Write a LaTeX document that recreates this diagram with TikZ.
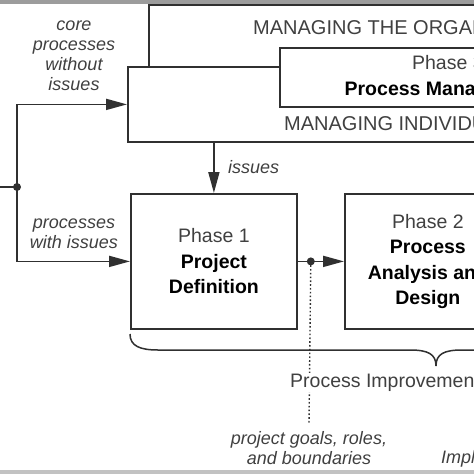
\documentclass[tikz,border=0pt]{standalone}
\usepackage{fontspec}
\setmainfont{Liberation Sans}
\usetikzlibrary{arrows.meta}
\newlength{\phasewidth}
\newlength{\phaseheight}
\setlength{\phasewidth}{166pt}
\setlength{\phaseheight}{135pt}
\definecolor{background}{RGB}{255, 255, 255}
\definecolor{mainline}{HTML}{303030}
\definecolor{mainfont}{HTML}{404040}
\definecolor{upperband}{HTML}{9C9C9C}
\definecolor{lowerband}{HTML}{C2C2C2}

\begin{document}
\begin{tikzpicture}[x=1pt,y=-1pt,
		box/.style={draw=mainline,line width=1.8pt,fill=background,inner sep=0pt,align=center,text=mainfont,font=\fontsize{19.5}{25.5}\selectfont},
		caps/.style={anchor=base west,inner sep=0pt,text=mainfont,font=\fontsize{20}{24}\selectfont},
		note/.style={inner sep=0pt,align=center,text=mainfont,font=\fontsize{18}{20}\selectfont\itshape},
		flow/.style={draw=mainline,line width=1.8pt},
		arrow/.style={flow,-{Triangle[length=21pt,width=11pt]}},
		goalline/.style={draw=mainline,line width=1.4pt,dash pattern=on 1.6pt off 2.2pt}]
				% Boundary box
				\useasboundingbox (0,0) rectangle (474,474);
				\clip (0,0) rectangle (474,474);
				\fill[background] (0,0) rectangle (474,474);
				\fill[upperband] (0,0) rectangle (474,3.5);
				\fill[lowerband] (0,470) rectangle (474,474);

				% Managing layers (upper part)
				\node[box,minimum width=400pt,minimum height=137pt,anchor=north west] (organisation) at (148,4) {};
				\node[box,minimum width=400pt,minimum height=75pt,anchor=north west] (individuals) at (127,66) {};
				\node[box,minimum width=330pt,minimum height=59pt,anchor=north west] (phasethree) at (279,47) {\hspace*{6pt}Phase 3\\\textbf{\color{black}Process Management}};
				\node[caps] (orgtext) at (253,34) {MANAGING THE ORGANIZATION};
				\node[caps] (indtext) at (284,130) {MANAGING INDIVIDUALS};

				% Phases (lower part)
				\node[box,minimum width=\phasewidth,minimum height=\phaseheight,anchor=north west] (phaseone) at (130,193) {Phase 1\\\textbf{\color{black}Project}\\\textbf{\color{black}Definition}};
				\node[box,minimum width=\phasewidth,minimum height=\phaseheight,anchor=north west] (phasetwo) at (344,193) {Phase 2\\\textbf{\color{black}Process}\\\textbf{\color{black}Analysis and}\\\textbf{\color{black}Design}};

				% Incoming processes
				\coordinate (entry) at (0,187);
				\coordinate (split) at (17,187);
				\draw[flow] (entry) -- (split);
				\draw[arrow] (split) |- (individuals.west);
				\draw[arrow] (split) |- (phaseone.west);
				\fill[mainline] (split) circle (4pt);
				\node[note] (corelabel) at (74,55.5) {core\\processes\\without\\issues};
				\node[note] (issuelabel) at (74,234) {processes\\with issues};

				% Issues down to phase 1
				\draw[arrow] (phaseone.north |- individuals.south) -- (phaseone.north);
				\node[note,anchor=base west] (issuestext) at (228,173) {issues};

				% Phase 1 to phase 2
				\coordinate (tap) at ([xshift=13pt]phaseone.east);
				\draw[arrow] (phaseone.east) -- (phasetwo.west);
				\fill[mainline] (tap) circle (4pt);

				% Brace and improvement label
				\draw[mainline,line width=1.5pt] (130,334) .. controls (130,346) and (140,350) .. (158,350) -- (410,350) .. controls (428,350) and (436,354) .. (436,366) .. controls (436,354) and (444,350) .. (462,350) -- (490,350);
				\node[note] (goals) at (309,448) {project goals, roles,\\and boundaries};
				\draw[goalline] (tap) -- ([yshift=7pt]goals.north);
				\node[caps,fill=background,inner sep=1pt,font=\fontsize{19.5}{24}\selectfont] (improvement) at (289,387) {Process Improvement};
				\node[note,anchor=base west] (implement) at (441,463) {Implementation};
\end{tikzpicture}
\end{document}
